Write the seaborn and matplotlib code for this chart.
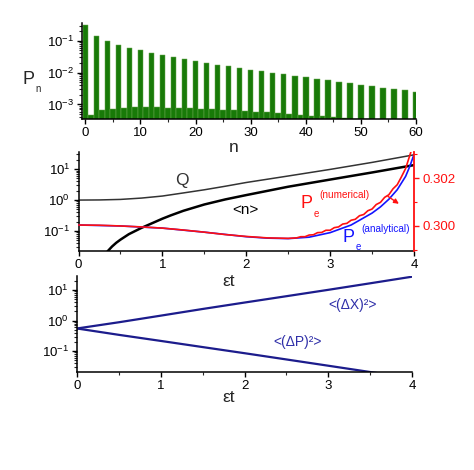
import matplotlib
matplotlib.use("Agg")
import numpy as np
import pandas as pd
import matplotlib.pyplot as plt
import seaborn as sns
from matplotlib.ticker import MultipleLocator, LogLocator, NullFormatter, FixedLocator, FormatStrFormatter

# ---------------- data ----------------
pn_even = [0.31, 0.144, 0.098, 0.073, 0.059, 0.050, 0.042, 0.0355, 0.031, 0.0266,
           0.023, 0.020, 0.0176, 0.0156, 0.0138, 0.0122, 0.0109, 0.0099, 0.0088, 0.0077,
           0.0071, 0.0063, 0.0057, 0.0051, 0.0047, 0.0041, 0.0038, 0.0033, 0.0030, 0.0028,
           0.0024]                      # n = 0, 2, ..., 60
pn_odd = [4.6e-4, 6.5e-4, 7.3e-4, 7.7e-4, 8.2e-4, 8.4e-4, 8.2e-4, 8.0e-4, 8.0e-4, 7.7e-4,
          7.3e-4, 7.1e-4, 6.9e-4, 6.6e-4, 6.3e-4, 6.0e-4, 5.6e-4, 5.3e-4, 5.0e-4, 4.8e-4,
          4.5e-4, 4.2e-4, 4.0e-4, 3.7e-4, 3.6e-4, 3.4e-4, 3.3e-4, 3.2e-4, 3.1e-4, 3.0e-4]  # n = 1, 3, ..., 59

q_t = [0, 0.25, 0.5, 0.75, 1, 1.25, 1.5, 1.75, 2, 2.5, 3, 3.5, 4]
q_val = [1.0, 1.01, 1.05, 1.16, 1.35, 1.7, 2.15, 2.8, 3.7, 6.0, 9.8, 16.5, 29.0]

nmean_t = [0.3, 0.35, 0.4, 0.45, 0.5, 0.6, 0.75, 0.9, 1.0, 1.1, 1.25, 1.5, 1.75, 2, 2.5, 3, 3.5, 4]
nmean_val = [0.015, 0.0226, 0.0316, 0.0417, 0.0525, 0.079, 0.126, 0.19, 0.25, 0.32, 0.45,
             0.72, 1.05, 1.45, 2.7, 4.6, 7.8, 13.5]

pe_num_t = [0, 0.25, 0.5, 0.75, 1.0, 1.25, 1.5, 1.75, 2.0, 2.25, 2.5, 2.6, 2.65, 2.7, 2.75,
            2.8, 2.85, 2.9, 2.95, 3.0, 3.05, 3.1, 3.15, 3.2, 3.25, 3.3, 3.35, 3.4, 3.45,
            3.5, 3.55, 3.6, 3.65, 3.7, 3.75, 3.8, 3.85, 3.9, 3.95, 4.0]
pe_num_val = [0.30004, 0.30003, 0.30000, 0.29996, 0.29991, 0.29983, 0.29974, 0.29964,
              0.29956, 0.29950, 0.29948, 0.29950, 0.29955, 0.29955, 0.29962, 0.29963,
              0.29972, 0.29973, 0.29982, 0.29982, 0.29993, 0.29996, 0.30008, 0.30011,
              0.30024, 0.30028, 0.30043, 0.30048, 0.30064, 0.30071, 0.30090, 0.30099,
              0.30120, 0.30131, 0.30156, 0.30173, 0.30206, 0.30241, 0.30296, 0.30352]

pe_ana_t = [0, 0.5, 1.0, 1.5, 2.0, 2.25, 2.5, 2.75, 3.0, 3.25, 3.5, 3.6, 3.7, 3.8, 3.9, 3.95, 4.0]
pe_ana_val = [0.30004, 0.30000, 0.29991, 0.29974, 0.29955, 0.29949, 0.29947, 0.29953,
              0.29972, 0.30004, 0.30054, 0.30080, 0.30112, 0.30152, 0.30208, 0.30250, 0.30300]

var_t = [0, 0.5, 1, 1.5, 2, 2.5, 3, 3.5, 4]
var_x = [0.55, 0.88, 1.45, 2.4, 3.9, 6.3, 10.2, 16.7, 27.5]
var_p = [0.55, 0.34, 0.215, 0.135, 0.085, 0.053, 0.033, 0.0205, 0.013]

# ---------------- style ----------------
sns.set_style("ticks")
plt.rcParams["font.family"] = ["Liberation Sans", "DejaVu Sans"]
plt.rcParams["mathtext.fontset"] = "custom"
plt.rcParams["mathtext.rm"] = "Liberation Sans"
plt.rcParams["mathtext.it"] = "Liberation Sans:italic"
plt.rcParams["mathtext.bf"] = "Liberation Sans:bold"
plt.rcParams["axes.unicode_minus"] = False

W, H = 474, 470
fig = plt.figure(figsize=(W / 100, H / 100), dpi=100)


def px_axes(l, t, r, b):
    return fig.add_axes([l / W, 1 - b / H, (r - l) / W, (b - t) / H])


def style_axes(ax):
    for s in ["top", "right"]:
        ax.spines[s].set_visible(False)
    for s in ["left", "bottom"]:
        ax.spines[s].set_linewidth(1.1)
        ax.spines[s].set_color("black")
    ax.tick_params(axis="both", which="major", direction="out", length=3.5, width=1.0,
                   labelsize=9.5, pad=2.5, colors="black")
    ax.tick_params(axis="both", which="minor", direction="out", length=2, width=0.8)
    ax.set_xlabel("")
    ax.set_ylabel("")
    ax.grid(False)
    ax.set_facecolor("white")


def text_px(x, y, s, **kw):
    fig.text(x / W, 1 - y / H, s, **kw)


GREEN = "#187a08"

# ---------------- top panel ----------------
ax1 = px_axes(82, 23, 416, 119)
ax1.set_yscale("log")
n_all = list(range(61))
pn_all = [pn_even[i // 2] if i % 2 == 0 else pn_odd[i // 2] for i in n_all]
df_bar = pd.DataFrame({"n": n_all, "P": pn_all})
sns.barplot(data=df_bar, x="n", y="P", native_scale=True, width=1.0, color=GREEN,
            saturation=1, linewidth=0.35, edgecolor="#6aa84f", errorbar=None, ax=ax1)
ax1.set_xlim(-0.6, 60)
ax1.set_ylim(3.5e-4, 0.36)
ax1.xaxis.set_major_locator(MultipleLocator(10))
ax1.xaxis.set_minor_locator(MultipleLocator(5))
ax1.yaxis.set_major_locator(LogLocator(base=10, numticks=10))
ax1.yaxis.set_minor_locator(LogLocator(base=10, subs=np.arange(2, 10), numticks=20))
ax1.yaxis.set_minor_formatter(NullFormatter())
style_axes(ax1)

text_px(28, 80, "P", fontsize=13, ha="center", va="center")
text_px(38, 89.5, "n", fontsize=7, ha="center", va="center")
text_px(234, 148, "n", fontsize=12.5, ha="center", va="center")

# ---------------- middle panel ----------------
ax2 = px_axes(78.5, 152.3, 414, 251)
ax2.set_yscale("log")
sns.lineplot(x=q_t, y=q_val, ax=ax2, color="#333333", linewidth=1.1)
sns.lineplot(x=nmean_t, y=nmean_val, ax=ax2, color="black", linewidth=1.8)
ax2.set_xlim(0, 4)
ax2.set_ylim(0.0226, 35)
ax2.xaxis.set_major_locator(MultipleLocator(1))
ax2.xaxis.set_minor_locator(MultipleLocator(0.5))
ax2.yaxis.set_major_locator(LogLocator(base=10, numticks=10))
ax2.yaxis.set_minor_locator(LogLocator(base=10, subs=np.arange(2, 10), numticks=20))
ax2.yaxis.set_minor_formatter(NullFormatter())
style_axes(ax2)

ax2r = ax2.twinx()
sns.lineplot(x=pe_ana_t, y=pe_ana_val, ax=ax2r, color="#1414ff", linewidth=1.2)
sns.lineplot(x=pe_num_t, y=pe_num_val, ax=ax2r, color="#ff1010", linewidth=1.2)
ax2r.set_ylim(0.29895, 0.30309)
ax2r.set_xlim(0, 4)
for s in ["top", "left", "bottom"]:
    ax2r.spines[s].set_visible(False)
ax2r.spines["right"].set_color("#ff1010")
ax2r.spines["right"].set_linewidth(1.3)
ax2r.yaxis.set_major_locator(FixedLocator([0.300, 0.302]))
ax2r.yaxis.set_minor_locator(FixedLocator([0.299, 0.301, 0.303]))
ax2r.yaxis.set_major_formatter(FormatStrFormatter("%.3f"))
ax2r.tick_params(axis="y", which="major", direction="out", length=3.5, width=1.0,
                 labelsize=9.5, pad=2.5, colors="#ff1010")
ax2r.tick_params(axis="y", which="minor", direction="out", length=2, width=0.8, colors="#ff1010")
ax2r.set_ylabel("")
ax2r.grid(False)
ax2r.annotate("", xy=(3.82, 0.30093), xytext=(3.69, 0.30124),
              arrowprops=dict(arrowstyle="-|>", color="#ff1010", lw=1.0, mutation_scale=7,
                              shrinkA=0, shrinkB=0))

text_px(181.5, 180, "Q", fontsize=12.5, color="#333333", ha="center", va="center")
text_px(245, 209.5, "<n>", fontsize=11, color="black", ha="center", va="center")
text_px(307, 203, "P", fontsize=13, color="#ff1010", ha="center", va="center")
text_px(316.5, 213.5, "e", fontsize=7, color="#ff1010", ha="center", va="center")
text_px(319, 195.5, "(numerical)", fontsize=7.2, color="#ff1010", ha="left", va="center")
text_px(348.5, 237, "P", fontsize=13, color="#1414ff", ha="center", va="center")
text_px(358, 247.5, "e", fontsize=7, color="#1414ff", ha="center", va="center")
text_px(361, 229.5, "(analytical)", fontsize=7.2, color="#1414ff", ha="left", va="center")
text_px(229, 281.5, "εt", fontsize=12.5, ha="center", va="center")

# ---------------- bottom panel ----------------
ax3 = px_axes(77, 276, 412, 371.7)
ax3.set_yscale("log")
NAVY = "#1c1c8c"
sns.lineplot(x=var_t, y=var_x, ax=ax3, color=NAVY, linewidth=1.6)
sns.lineplot(x=var_t, y=var_p, ax=ax3, color=NAVY, linewidth=1.6)
ax3.set_xlim(0, 4)
ax3.set_ylim(0.021, 29)
ax3.xaxis.set_major_locator(MultipleLocator(1))
ax3.xaxis.set_minor_locator(MultipleLocator(0.5))
ax3.yaxis.set_major_locator(LogLocator(base=10, numticks=10))
ax3.yaxis.set_minor_locator(LogLocator(base=10, subs=np.arange(2, 10), numticks=20))
ax3.yaxis.set_minor_formatter(NullFormatter())
style_axes(ax3)

text_px(352.5, 305.5, "<(ΔX)²>", fontsize=10, color="#2e2ea8", ha="center", va="center")
text_px(297.5, 342, "<(ΔP)²>", fontsize=10, color="#2e2ea8", ha="center", va="center")
text_px(229, 398, "εt", fontsize=12.5, ha="center", va="center")

fig.savefig("out.png", dpi=100, facecolor="white")
